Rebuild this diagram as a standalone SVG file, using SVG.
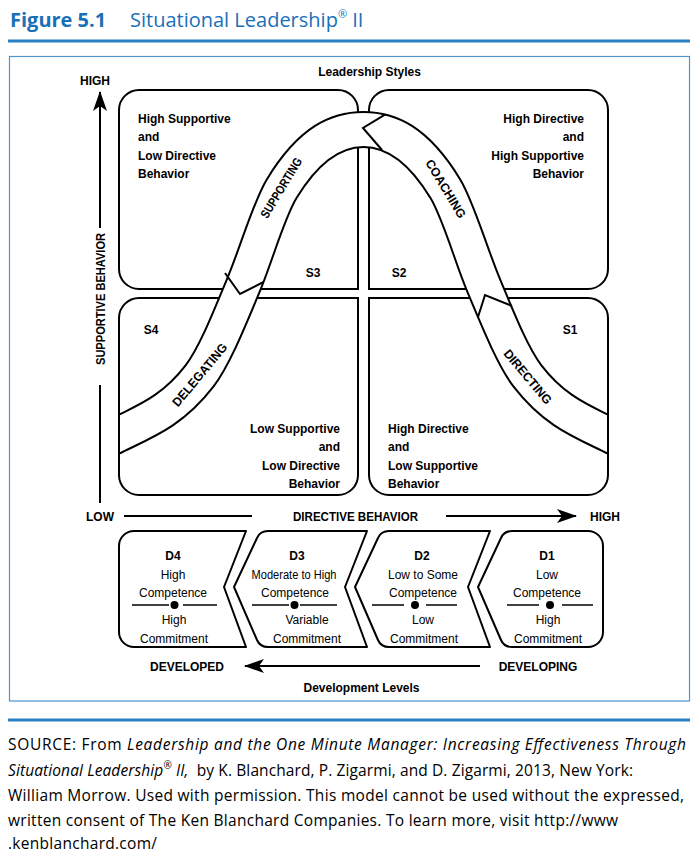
<svg xmlns="http://www.w3.org/2000/svg" width="700" height="856" viewBox="0 0 700 856">
<defs>
<style>
.t{font-family:"Liberation Sans",Arial,sans-serif;fill:#000}
.b{font-weight:bold;font-size:12px}
.r{font-size:12px}
.c{text-anchor:middle}
.e{text-anchor:end}
.box{fill:#fff;stroke:#000;stroke-width:2}
.dl{fill:#fff;stroke:#000;stroke-width:2;stroke-linejoin:round}
.ln{stroke:#000;stroke-width:2;fill:none}
.dot{stroke:#000;stroke-width:1.5}
.os{font-family:"Open Sans","Liberation Sans",sans-serif}
.blue{fill:#1a70b8}
.band-lbl{font-family:"Liberation Sans",Arial,sans-serif;font-weight:bold;font-size:12.5px;text-anchor:middle;dominant-baseline:central}
</style>
<marker id="ah" viewBox="0 0 20 14" refX="19" refY="7" markerWidth="20" markerHeight="14" orient="auto" markerUnits="userSpaceOnUse">
<path d="M0,0 L20,7 L0,14 L5,7 Z" fill="#000"/>
</marker>
</defs>
<rect width="700" height="856" fill="#fff"/>

<g id="title">
<text class="os blue" x="10" y="27" font-weight="bold" font-size="20">Figure 5.1</text>
<text class="os blue" x="130" y="27" font-size="20">Situational Leadership<tspan font-size="11" dy="-9">®</tspan><tspan dy="9"> II</tspan></text>
<line x1="8" y1="41" x2="690" y2="41" stroke="#2b7fc3" stroke-width="3"/>
</g>

<rect id="frame" x="9.5" y="56.5" width="680" height="644.5" fill="none" stroke="#4f95cf" stroke-width="1.2"/>

<text class="t b c" x="369.5" y="76">Leadership Styles</text>

<g id="quadrant-s3">
<path class="box" d="M139,90 H338 A20,20 0 0 1 358,110 V289 H139 A20,20 0 0 1 119,269 V110 A20,20 0 0 1 139,90 Z"/>
<text class="t b" x="138" y="122.5">High Supportive</text>
<text class="t b" x="138" y="141">and</text>
<text class="t b" x="138" y="159.5">Low Directive</text>
<text class="t b" x="138" y="178">Behavior</text>
<text class="t b c" x="313" y="276.5">S3</text>
</g>
<g id="quadrant-s2">
<path class="box" d="M389,90 H588 A20,20 0 0 1 608,110 V269 A20,20 0 0 1 588,289 H369 V110 A20,20 0 0 1 389,90 Z"/>
<text class="t b e" x="584" y="122.5">High Directive</text>
<text class="t b e" x="584" y="141">and</text>
<text class="t b e" x="584" y="159.5">High Supportive</text>
<text class="t b e" x="584" y="178">Behavior</text>
<text class="t b c" x="399" y="276.5">S2</text>
</g>
<g id="quadrant-s4">
<path class="box" d="M139,298 H358 V475 A20,20 0 0 1 338,495 H139 A20,20 0 0 1 119,475 V318 A20,20 0 0 1 139,298 Z"/>
<text class="t b c" x="151" y="334">S4</text>
<text class="t b e" x="340" y="432.5">Low Supportive</text>
<text class="t b e" x="340" y="451">and</text>
<text class="t b e" x="340" y="469.5">Low Directive</text>
<text class="t b e" x="340" y="488">Behavior</text>
</g>
<g id="quadrant-s1">
<path class="box" d="M369,298 H588 A20,20 0 0 1 608,318 V475 A20,20 0 0 1 588,495 H389 A20,20 0 0 1 369,475 Z"/>
<text class="t b c" x="570" y="334">S1</text>
<text class="t b" x="388" y="432.5">High Directive</text>
<text class="t b" x="388" y="451">and</text>
<text class="t b" x="388" y="469.5">Low Supportive</text>
<text class="t b" x="388" y="488">Behavior</text>
</g>

<g id="style-curve">
<path class="box" d="M119,414.7 C141.2,403.6 163.4,394.2 185.6,365.3 C199.5,347.2 213.4,311.7 227.3,278.3 C240.4,246.9 253.4,201.5 266.5,179.9 C298.8,126.6 331.2,112 363.5,112 C395.8,112 428.2,126.6 460.5,179.9 C473.6,201.5 486.6,246.9 499.7,278.3 C513.6,311.7 527.5,347.2 541.4,365.3 C563.6,394.2 585.8,403.6 608,414.7 L608,453.7 C576.5,438 545.1,427.6 513.6,386.7 C498.2,366.6 482.7,328.7 467.3,291.7 C455,262.3 442.8,218.3 430.5,198.1 C408.2,161.3 385.8,147 363.5,147 C341.2,147 318.8,161.3 296.5,198.1 C284.2,218.3 272,262.3 259.7,291.7 C244.3,328.7 228.8,366.6 213.4,386.7 C181.9,427.6 150.5,438 119,453.7 Z"/>
<polyline class="ln" points="385,114.6 363,128 382,150"/>
<polyline class="ln" points="225,273 240,294 263.5,282"/>
<polyline class="ln" points="478,317 485,295 512,306"/>
<text class="band-lbl" transform="translate(281.5,188) rotate(-58.8)" textLength="68" lengthAdjust="spacingAndGlyphs">SUPPORTING</text>
<text class="band-lbl" transform="translate(445.5,189) rotate(58.8)" textLength="66" lengthAdjust="spacingAndGlyphs">COACHING</text>
<text class="band-lbl" transform="translate(200,375) rotate(-50)" textLength="78" lengthAdjust="spacingAndGlyphs">DELEGATING</text>
<text class="band-lbl" transform="translate(527.5,377) rotate(50)" textLength="67" lengthAdjust="spacingAndGlyphs">DIRECTING</text>
</g>

<g id="connectors">
<line class="ln" x1="100" y1="228" x2="100" y2="92" marker-end="url(#ah)"/>
<line class="ln" x1="100" y1="385" x2="100" y2="503"/>
<line class="ln" x1="124" y1="516" x2="252" y2="516"/>
<line class="ln" x1="446" y1="516" x2="576" y2="516" marker-end="url(#ah)"/>
<line class="ln" x1="480" y1="666" x2="245" y2="666" marker-end="url(#ah)"/>
</g>

<g id="axis-labels">
<text class="t b c" x="95" y="84.5">HIGH</text>
<text class="t b c" transform="translate(104.5,299) rotate(-90)" textLength="132" lengthAdjust="spacingAndGlyphs">SUPPORTIVE BEHAVIOR</text>
<text class="t b c" x="100" y="520.5">LOW</text>
<text class="t b c" x="355.5" y="520.5" textLength="125" lengthAdjust="spacingAndGlyphs">DIRECTIVE BEHAVIOR</text>
<text class="t b c" x="605" y="520.5">HIGH</text>
<text class="t b c" x="187" y="670.5">DEVELOPED</text>
<text class="t b c" x="538" y="670.5">DEVELOPING</text>
<text class="t b c" x="361.5" y="691.5">Development Levels</text>
</g>

<g id="d4">
<path class="dl" d="M134,531 H246 L224,587 L246,647 H134 A15,15 0 0 1 119,632 V546 A15,15 0 0 1 134,531 Z"/>
<text class="t b c" x="173" y="559.5">D4</text>
<text class="t r c" x="173" y="578.5">High</text>
<text class="t r c" x="173" y="596.5">Competence</text>
<line class="dot" x1="132" y1="605" x2="169" y2="605"/><circle cx="174.5" cy="605" r="4"/><line class="dot" x1="183" y1="605" x2="217" y2="605"/>
<text class="t r c" x="174" y="623.5">High</text>
<text class="t r c" x="174" y="642.5">Commitment</text>
</g>
<g id="d3">
<path class="dl" d="M268,531 H367 L345,587 L367,647 H268 Q260,647 257,640 L234,587 L257,538 Q260,531 268,531 Z"/>
<text class="t b c" x="297" y="559.5">D3</text>
<text class="t r c" x="294" y="578.5" textLength="85" lengthAdjust="spacingAndGlyphs">Moderate to High</text>
<text class="t r c" x="295" y="596.5">Competence</text>
<line class="dot" x1="252" y1="605" x2="289" y2="605"/><circle cx="294.5" cy="605" r="4"/><line class="dot" x1="300" y1="605" x2="337" y2="605"/>
<text class="t r c" x="307" y="623.5">Variable</text>
<text class="t r c" x="307" y="642.5">Commitment</text>
</g>
<g id="d2">
<path class="dl" d="M389,531 H490 L468,587 L490,647 H389 Q381,647 378,640 L355,587 L378,538 Q381,531 389,531 Z"/>
<text class="t b c" x="422" y="559.5">D2</text>
<text class="t r c" x="423" y="578.5">Low to Some</text>
<text class="t r c" x="423" y="596.5">Competence</text>
<line class="dot" x1="372" y1="605" x2="404" y2="605"/><circle cx="415" cy="605" r="4"/><line class="dot" x1="426" y1="605" x2="457" y2="605"/>
<text class="t r c" x="423" y="623.5">Low</text>
<text class="t r c" x="424" y="642.5">Commitment</text>
</g>
<g id="d1">
<path class="dl" d="M512,531 H588 A15,15 0 0 1 603,546 V632 A15,15 0 0 1 588,647 H512 Q504,647 501,640 L478,587 L501,538 Q504,531 512,531 Z"/>
<text class="t b c" x="547" y="559.5">D1</text>
<text class="t r c" x="547" y="578.5">Low</text>
<text class="t r c" x="547" y="596.5">Competence</text>
<line class="dot" x1="507" y1="605" x2="539" y2="605"/><circle cx="550" cy="605" r="4"/><line class="dot" x1="562" y1="605" x2="593" y2="605"/>
<text class="t r c" x="548" y="623.5">High</text>
<text class="t r c" x="548" y="642.5">Commitment</text>
</g>

<g id="source">
<line x1="8" y1="720" x2="690" y2="720" stroke="#2b7fc3" stroke-width="3"/>
<text class="os" x="8" y="750" font-size="15.5" textLength="678">SOURCE: From <tspan font-style="italic">Leadership and the One Minute Manager: Increasing Effectiveness Through</tspan></text>
<text class="os" x="8" y="776" font-size="15.5" textLength="625"><tspan font-style="italic">Situational Leadership</tspan><tspan font-size="10" dy="-7">®</tspan><tspan font-style="italic" dy="7"> II,</tspan>&#160; by K. Blanchard, P. Zigarmi, and D. Zigarmi, 2013, New York:</text>
<text class="os" x="8" y="801" font-size="15.5" textLength="676">William Morrow. Used with permission. This model cannot be used without the expressed,</text>
<text class="os" x="8" y="826" font-size="15.5" textLength="610">written consent of The Ken Blanchard Companies. To learn more, visit http://www</text>
<text class="os" x="8" y="849" font-size="15.5" textLength="149">.kenblanchard.com/</text>
</g>
</svg>
